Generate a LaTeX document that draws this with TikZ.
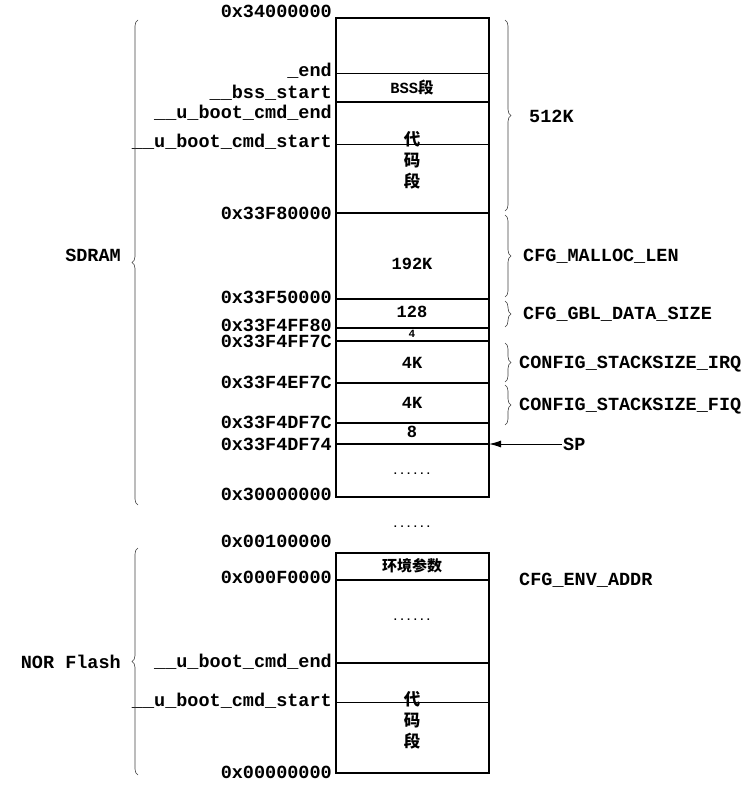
\documentclass[tikz,border=0pt]{standalone}
\usepackage{fontspec}
\setmainfont{Liberation Mono}
\newfontfamily\cjk{Noto Sans CJK SC}
\usetikzlibrary{decorations.pathreplacing,arrows.meta}
\begin{document}
\begin{tikzpicture}[x=1pt,y=-1pt,
  lab/.style={anchor=east,font=\bfseries\fontsize{18.5}{19}\selectfont,inner sep=1pt},
  rlab/.style={anchor=west,font=\bfseries\fontsize{18.5}{19}\selectfont,inner sep=1pt},
  cell/.style={font=\bfseries\fontsize{17}{17}\selectfont},
  thick1/.style={line width=1.4pt},
  thin1/.style={line width=0.6pt},
  brc/.style={decorate,decoration={brace,amplitude=6pt},line width=0.6pt,draw=black!75}]
\useasboundingbox (0,0) rectangle (755,786);
% top box
\draw[thick1] (336,18) rectangle (489,497);
\draw[thin1] (336,73) -- (489,73);
\draw[thick1] (336,102) -- (489,102);
\draw[thin1] (336,144) -- (489,144);
\draw[thick1] (336,213) -- (489,213);
\draw[thick1] (336,299) -- (489,299);
\draw[thick1] (336,328) -- (489,328);
\draw[thick1] (336,341) -- (489,341);
\draw[thick1] (336,383) -- (489,383);
\draw[thick1] (336,423) -- (489,423);
\draw[thick1] (336,444) -- (489,444);
% cell texts
\node[cell,font=\bfseries\fontsize{15.5}{15}\selectfont] (bss) at (412,88) {BSS{\cjk\bfseries 段}};
\node[cell,align=center,font=\cjk\bfseries\fontsize{16.5}{17}\selectfont] (code1) at (412,160) {代\\[4pt]码\\[4pt]段};
\node[cell] (k192) at (412,264) {192K};
\node[cell] (c128) at (412,312) {128};
\node[cell,font=\bfseries\fontsize{11}{11}\selectfont] (c4) at (412,334) {4};
\node[cell] (k4a) at (412,363) {4K};
\node[cell] (k4b) at (412,403) {4K};
\node[cell] (c8) at (412,432) {8};
\node[cell,font=\bfseries\fontsize{11}{11}\selectfont] (dots1) at (412,474) {......};
\node[cell,font=\bfseries\fontsize{11}{11}\selectfont] (dotsmid) at (412,527) {......};
% bottom box
\draw[thick1] (336,553) rectangle (489,773);
\draw[thick1] (336,580) -- (489,580);
\draw[thick1] (336,663) -- (489,663);
\draw[thin1] (336,702) -- (489,702);
\node[cell,font=\cjk\bfseries\fontsize{15}{15}\selectfont] (env) at (412,566) {环境参数};
\node[cell,font=\bfseries\fontsize{11}{11}\selectfont] (dots2) at (412,620) {......};
\node[cell,align=center,font=\cjk\bfseries\fontsize{16.5}{17}\selectfont] (code2) at (412,720) {代\\[4pt]码\\[4pt]段};
% left labels
\node[lab] (a0) at (333,11) {0x34000000};
\node[lab] (a1) at (333,71) {\_end};
\node[lab] (a2) at (333,93) {\_\_bss\_start};
\node[lab] (a3) at (333,113) {\_\_u\_boot\_cmd\_end};
\node[lab] (a4) at (333,142) {\_\_u\_boot\_cmd\_start};
\node[lab] (a5) at (333,213) {0x33F80000};
\node[lab] (a6) at (333,297) {0x33F50000};
\node[lab] (a7) at (333,325) {0x33F4FF80};
\node[lab] (a8) at (333,341) {0x33F4FF7C};
\node[lab] (a9) at (333,382) {0x33F4EF7C};
\node[lab] (a10) at (333,422) {0x33F4DF7C};
\node[lab] (a11) at (333,444) {0x33F4DF74};
\node[lab] (a12) at (333,494) {0x30000000};
\node[lab] (b0) at (333,541) {0x00100000};
\node[lab] (b1) at (333,577) {0x000F0000};
\node[lab] (b2) at (333,662) {\_\_u\_boot\_cmd\_end};
\node[lab] (b3) at (333,701) {\_\_u\_boot\_cmd\_start};
\node[lab] (b4) at (333,772) {0x00000000};
% left braces
\draw[brc] (138,505) -- (138,20);
\node[lab] (sdram) at (122,255) {SDRAM};
\draw[brc] (138,775) -- (138,548);
\node[lab] (nor) at (122,662) {NOR Flash};
% right braces
\draw[brc] (505,20) -- (505,211);
\node[rlab] (r1) at (528,116) {512K};
\draw[brc] (505,215) -- (505,297);
\node[rlab] (r2) at (522,256) {CFG\_MALLOC\_LEN};
\draw[brc] (505,301) -- (505,327);
\node[rlab] (r3) at (522,314) {CFG\_GBL\_DATA\_SIZE};
\draw[brc] (505,343) -- (505,382);
\node[rlab] (r4) at (518,364) {CONFIG\_STACKSIZE\_IRQ};
\draw[brc] (505,385) -- (505,425);
\node[rlab] (r5) at (518,406) {CONFIG\_STACKSIZE\_FIQ};
\node[rlab] (sp) at (562,444) {SP};
\coordinate (spe) at (489,444);
\draw[-{Latex[length=12pt,width=7pt]},line width=1pt] (sp.west) -- (spe);
\node[rlab] (envaddr) at (518,580) {CFG\_ENV\_ADDR};
\end{tikzpicture}
\end{document}
